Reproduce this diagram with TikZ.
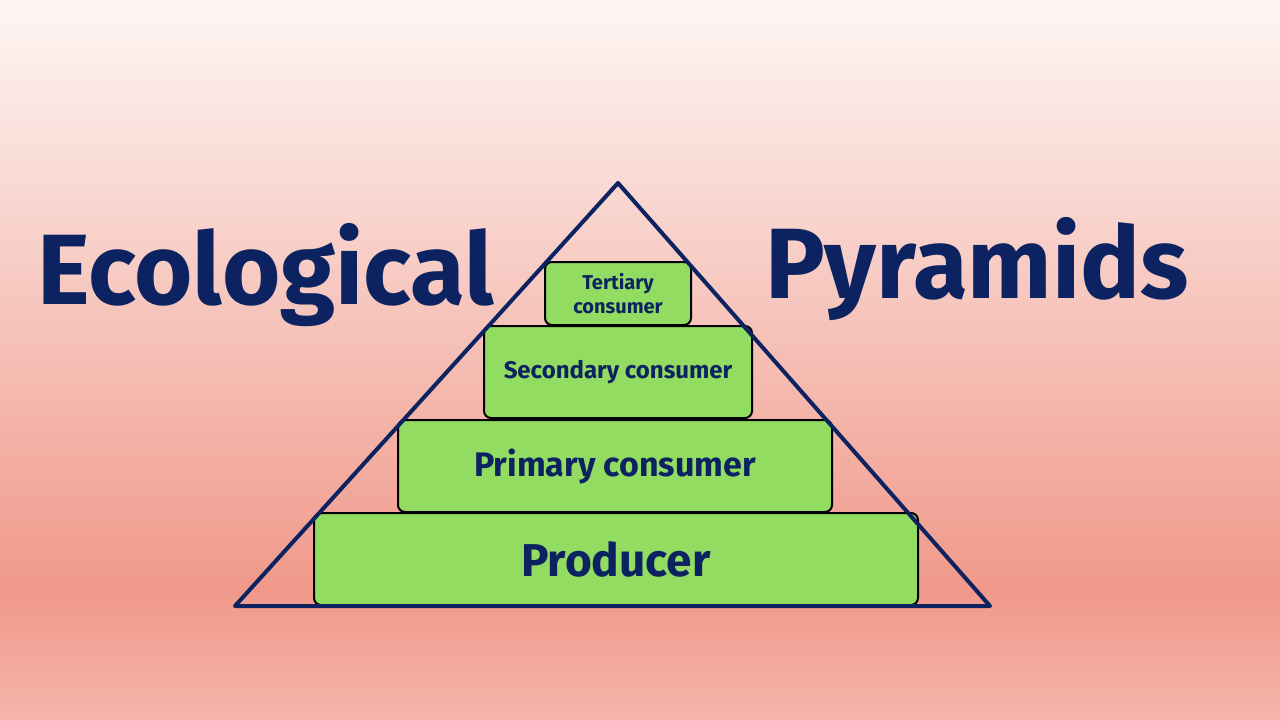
\documentclass[tikz,border=0pt]{standalone}
\usepackage{fontspec}
\setmainfont{Fira Sans}
\definecolor{navy}{HTML}{0D2260}
\definecolor{leaf}{HTML}{92DC62}
\definecolor{bgtop}{HTML}{FDF6F4}
\definecolor{bgmid}{HTML}{F0998A}
\definecolor{bgbot}{HTML}{F5B5AB}
\begin{document}
\begin{tikzpicture}[x=1pt,y=-1pt,
  tier/.style={draw=black,line width=2pt,fill=leaf,rounded corners=7pt,inner sep=0pt,text=navy,font=\bfseries,align=center}]
\useasboundingbox (0,0) rectangle (1280,720);
\shade[top color=bgtop,bottom color=bgmid] (0,0) rectangle (1280,590);
\shade[top color=bgmid,bottom color=bgbot] (0,590) rectangle (1280,720);
\coordinate (apex) at (618,183);
\coordinate (bl) at (235,606);
\coordinate (br) at (990,606);
\node[tier,minimum width=604pt,minimum height=92pt,font=\fontsize{46}{50}\selectfont\bfseries] (prod) at (616,559) {Producer};
\node[tier,minimum width=434pt,minimum height=92pt,font=\fontsize{34}{38}\selectfont\bfseries] (prim) at (615,466) {Primary consumer};
\node[tier,minimum width=268pt,minimum height=92pt,font=\fontsize{24}{28}\selectfont\bfseries] (sec) at (618,372) {Secondary consumer};
\node[tier,minimum width=146pt,minimum height=63pt,font=\fontsize{20}{24}\selectfont\bfseries] (ter) at (618,293.5) {Tertiary\\consumer};
\draw[navy,line width=4pt,line join=round] (apex) -- (bl) -- (br) -- cycle;
\node[text=navy,font=\fontsize{100}{110}\selectfont\bfseries,anchor=base] (eco) at (266,304) {Ecological};
\node[text=navy,font=\fontsize{100}{110}\selectfont\bfseries,anchor=base] (pyr) at (977,298) {Pyramids};
\end{tikzpicture}
\end{document}
